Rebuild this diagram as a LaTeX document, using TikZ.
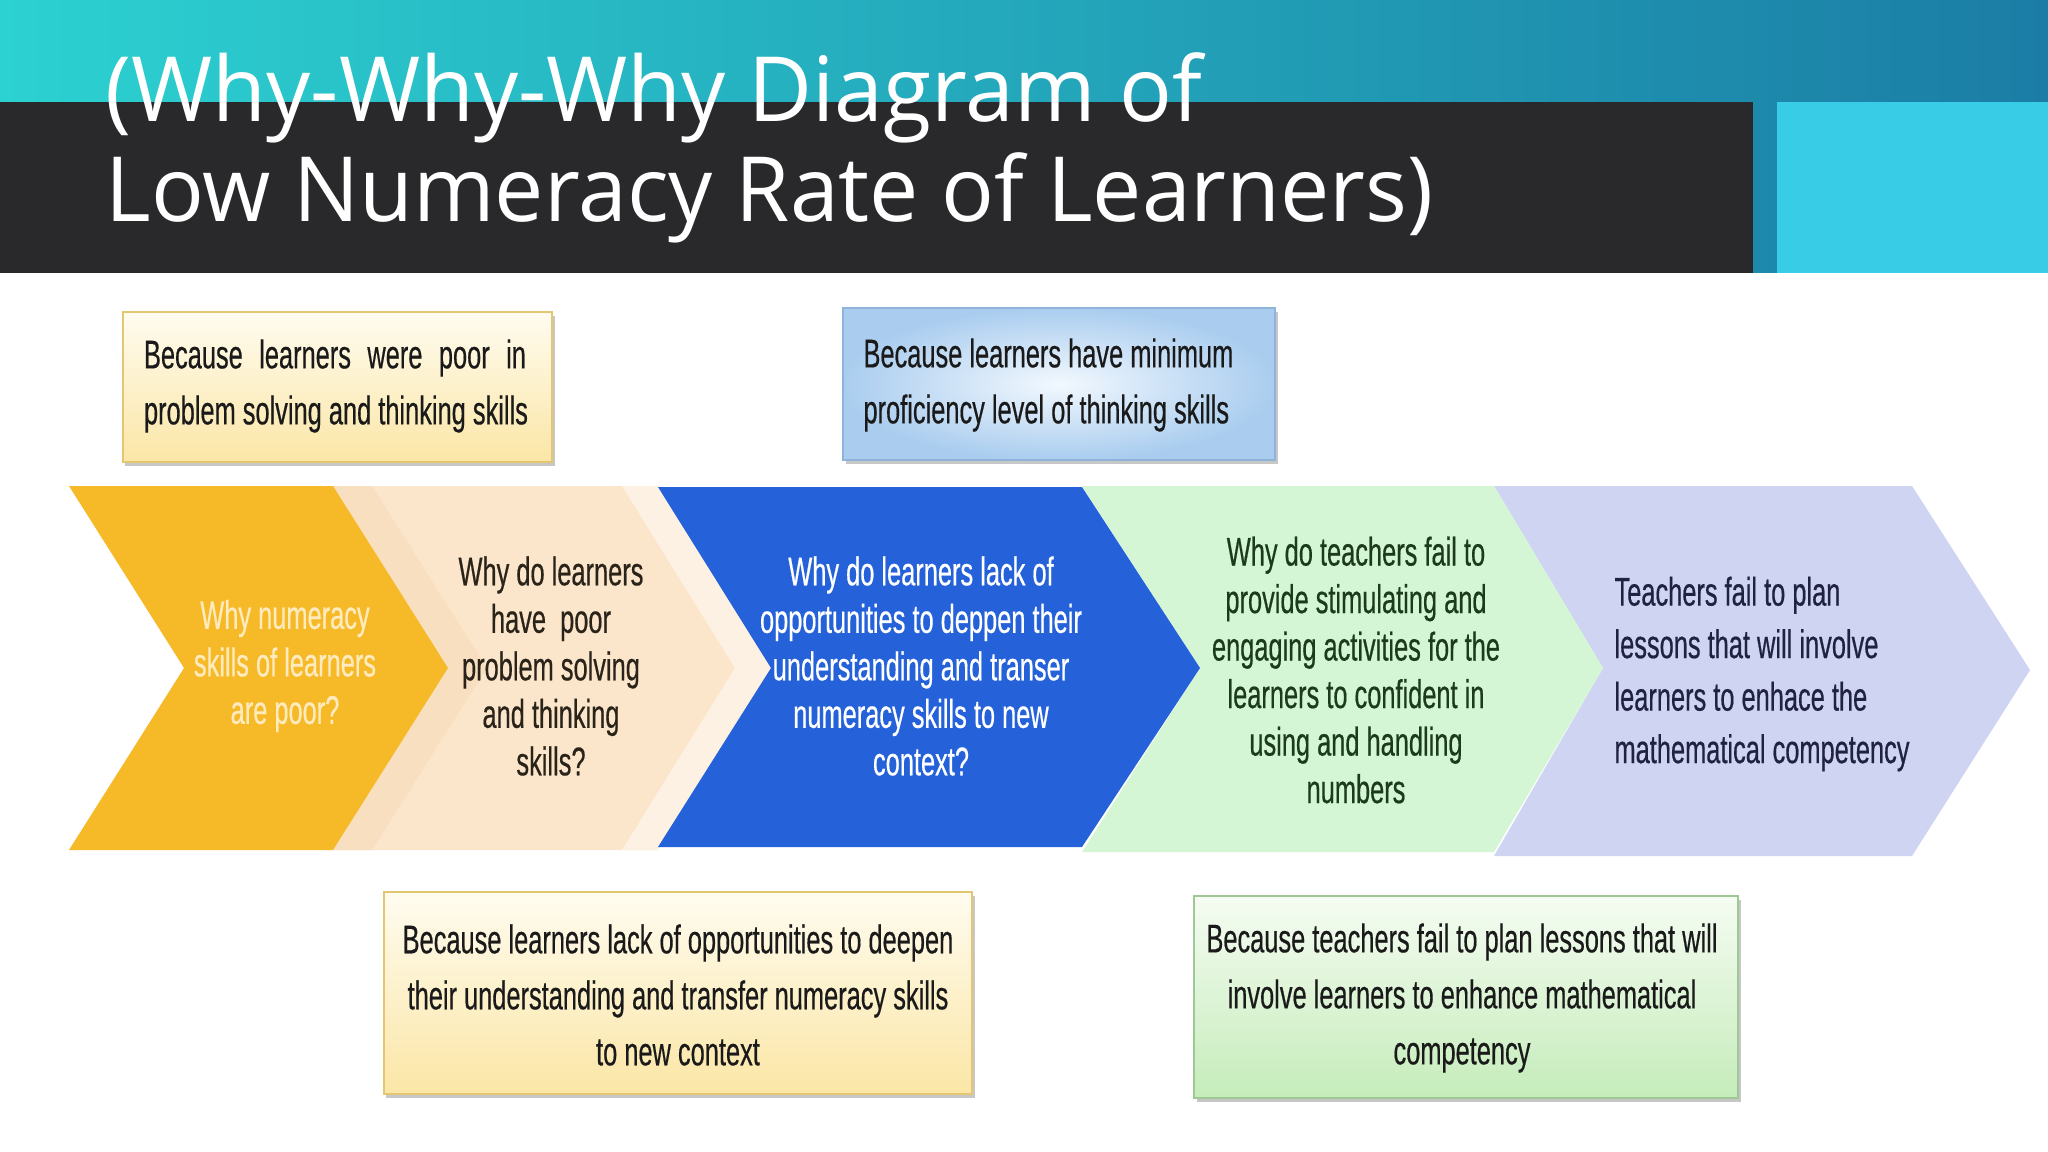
\documentclass[tikz,border=0pt]{standalone}
\usepackage{fontspec}
\newfontfamily\nar[FakeStretch=0.635,FakeBold=0.4]{Liberation Sans}
\newfontfamily\ttlfont[FakeStretch=0.975]{Open Sans}
\usetikzlibrary{shadows}
\definecolor{hdrL}{HTML}{2CD1D1}
\definecolor{hdrR}{HTML}{1B7DA5}
\definecolor{darkband}{HTML}{29282B}
\definecolor{cyanblk}{HTML}{38CCE7}
\definecolor{goldc}{HTML}{F6B928}
\definecolor{creamc}{HTML}{FCE6CB}
\definecolor{creamd}{HTML}{F8DFC0}
\definecolor{creaml}{HTML}{FDF1E4}
\definecolor{bluec}{HTML}{2562DA}
\definecolor{greenc}{HTML}{D5F6D4}
\definecolor{lavc}{HTML}{CED4F2}
\definecolor{goldtxt}{HTML}{FFEBBE}
\definecolor{browntxt}{HTML}{2A2319}
\definecolor{greentxt}{HTML}{1C3A1C}
\definecolor{navytxt}{HTML}{1F2240}
\definecolor{boxtxt}{HTML}{1A1A1A}
\definecolor{ybTop}{HTML}{FFFCF0}
\definecolor{ybBot}{HTML}{FBE6A6}
\definecolor{ybDraw}{HTML}{E4C670}
\definecolor{bbIn}{HTML}{F2F8FE}
\definecolor{bbOut}{HTML}{AACDEF}
\definecolor{bbDraw}{HTML}{8FB3D9}
\definecolor{gbTop}{HTML}{F5FCF2}
\definecolor{gbBot}{HTML}{C5ECBA}
\definecolor{gbDraw}{HTML}{A0C896}
\tikzset{
  titletext/.style={inner sep=0pt, anchor=base west, text=white, font=\ttlfont\fontsize{36}{40}\selectfont},
  chevtext/.style={inner sep=0pt, align=center, font=\nar\fontsize{16}{19}\selectfont},
  boxbase/.style={line width=0.9pt, inner sep=0pt,
    drop shadow={shadow xshift=1pt, shadow yshift=-1.5pt, fill=black, opacity=0.22}},
  boxtext/.style={inner sep=0pt, text=boxtxt, font=\nar\fontsize{16}{22.4}\selectfont},
  yellowbox/.style={boxbase, draw=ybDraw, top color=ybTop, bottom color=ybBot},
  bluebox/.style={boxbase, draw=bbDraw, inner color=bbIn, outer color=bbOut},
  greenbox/.style={boxbase, draw=gbDraw, top color=gbTop, bottom color=gbBot}
}
\begin{document}
\begin{tikzpicture}[x=0.4pt,y=-0.4pt]
\useasboundingbox (0,0) rectangle (2048,1152);
\fill[white] (0,0) rectangle (2048,1152);
% header
\shade[left color=hdrL, right color=hdrR] (0,0) rectangle (2048,273);
\fill[darkband] (0,102) rectangle (1753,273);
\fill[cyanblk] (1777,102) rectangle (2048,273);
\node[titletext] (t1) at (105,122) {(Why-Why-Why Diagram of};
\node[titletext] (t2) at (105,221) {Low Numeracy Rate of Learners)};
% chevrons
\fill[lavc] (1494,486) -- (1912,486) -- (2030,670) -- (1912,856) -- (1494,856) -- (1603,668) -- cycle;
\fill[greenc] (1082,486) -- (1494,486) -- (1603,668) -- (1494,852) -- (1082,852) -- (1200,668) -- cycle;
\fill[creamc] (333,486) -- (658,486) -- (771,668) -- (658,850) -- (333,850) -- (448,668) -- cycle;
\fill[creamd] (333,486) -- (372,486) -- (487,668) -- (372,850) -- (333,850) -- (448,668) -- cycle;
\fill[creaml] (622,486) -- (658,486) -- (771,668) -- (658,850) -- (622,850) -- (735,668) -- cycle;
\fill[bluec] (658,487) -- (1082,487) -- (1200,668) -- (1082,847) -- (658,847) -- (771,668) -- cycle;
\fill[goldc] (69,486) -- (333,486) -- (448,668) -- (333,850) -- (69,850) -- (184,668) -- cycle;
% chevron texts
\node[chevtext, text=goldtxt] (c1) at (285,666) {Why numeracy\\skills of learners\\are poor?};
\node[chevtext, text=browntxt] (c2) at (551,666) {Why do learners\\have\ \ poor\\problem solving\\and thinking\\skills?};
\node[chevtext, text=white] (c3) at (921,666) {Why do learners lack of\\opportunities to deppen their\\understanding and transer\\numeracy skills to new\\context?};
\node[chevtext, text=greentxt] (c4) at (1356,670) {Why do teachers fail to\\provide stimulating and\\engaging activities for the\\learners to confident in\\using and handling\\numbers};
\node[chevtext, text=navytxt, align=left, anchor=west, font=\nar\fontsize{16}{21}\selectfont] (c5) at (1614,674) {Teachers fail to plan\\lessons that will involve\\learners to enhace the\\mathematical competency};
% boxes
\node[yellowbox, minimum width=171.6pt, minimum height=60pt] (b1) at (337.5,387) {};
\node[boxtext, align=left] (b1t) at (336,386)
  {\makebox[152.8pt][s]{Because learners were poor in}\\problem solving and thinking skills};
\node[bluebox, minimum width=172.8pt, minimum height=60.8pt] (b2) at (1059,384) {};
\node[boxtext, align=left, anchor=west] (b2t) at (863,385)
  {Because learners have minimum\\proficiency level of thinking skills};
\node[yellowbox, minimum width=235.2pt, minimum height=80.8pt] (b3) at (678,993) {};
\node[boxtext, align=center] (b3t) at (678,995)
  {Because learners lack of opportunities to deepen\\their understanding and transfer numeracy skills\\to new context};
\node[greenbox, minimum width=217.6pt, minimum height=80.8pt] (b4) at (1466,997) {};
\node[boxtext, align=center] (b4t) at (1462,998)
  {Because teachers fail to plan lessons that will\\involve learners to enhance mathematical\\competency};
\end{tikzpicture}
\end{document}
